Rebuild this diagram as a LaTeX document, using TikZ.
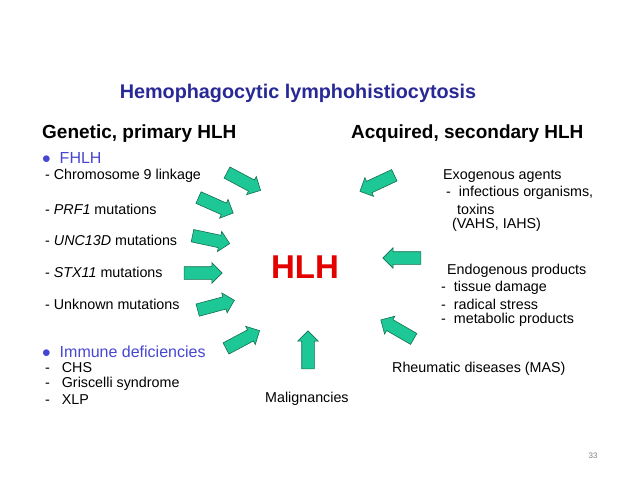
\documentclass[tikz,border=0pt]{standalone}
\usepackage{fontspec}
\setmainfont{Liberation Sans}
\usetikzlibrary{shapes.arrows}
\definecolor{arr}{RGB}{30,200,150}
\definecolor{arrd}{RGB}{20,110,80}
\definecolor{ttl}{RGB}{40,40,150}
\definecolor{bl}{RGB}{70,70,210}
\begin{document}
\begin{tikzpicture}[x=1pt,y=-1pt,
  blk/.style={single arrow,draw=arrd,fill=arr,line width=0.6pt,minimum height=38pt,single arrow head extend=4pt,single arrow tip angle=90,inner xsep=0pt,inner ysep=6pt,anchor=center},
  t/.style={anchor=west,inner sep=0pt,font=\fontsize{14.3}{15}\selectfont},
  h/.style={anchor=west,inner sep=0pt,font=\fontsize{19}{21}\selectfont\bfseries}]
\useasboundingbox (0,0) rectangle (638,479);
\node[inner sep=0pt,text=ttl,font=\fontsize{19.8}{22}\selectfont\bfseries] (title) at (298,93) {Hemophagocytic lymphohistiocytosis};
\node[h] (gen) at (42,134) {Genetic, primary HLH};
\node[h] (acq) at (351,134) {Acquired, secondary HLH};
\node[t,text=bl,font=\fontsize{16}{17}\selectfont] (fh) at (42,158) {$\bullet$\ \ FHLH};
\node[t] (l1) at (45,176) {- Chromosome 9 linkage};
\node[t] (l2) at (45,209) {- \textit{PRF1} mutations};
\node[t] (l3) at (45,240) {- \textit{UNC13D} mutations};
\node[t] (l4) at (45,272) {- \textit{STX11} mutations};
\node[t] (l5) at (45,304) {- Unknown mutations};
\node[t,text=bl,font=\fontsize{16}{17}\selectfont] (im) at (42,352) {$\bullet$\ \ Immune deficiencies};
\node[t] (c1) at (45,368) {-\ \ \ CHS};
\node[t] (c2) at (45,384) {-\ \ \ Griscelli syndrome};
\node[t] (c3) at (45,400) {-\ \ \ XLP};
\node[t] (r1) at (443,176) {Exogenous agents};
\node[t] (r2) at (446,193) {-\ \ infectious organisms,};
\node[t] (r3) at (457,209) {toxins};
\node[t] (r4) at (452,225) {(VAHS, IAHS)};
\node[t] (r5) at (447,271) {Endogenous products};
\node[t] (r6) at (441,288) {-\ \ tissue damage};
\node[t] (r7) at (441,304) {-\ \ radical stress};
\node[t] (r8) at (441,320) {-\ \ metabolic products};
\node[t] (rh) at (392,369) {Rheumatic diseases (MAS)};
\node[t] (mal) at (265,399) {Malignancies};
\node[inner sep=0pt,text=red!90!black,font=\fontsize{33}{35}\selectfont\bfseries] (hlh) at (305,267) {HLH};
\node[inner sep=0pt,text=gray,font=\fontsize{8}{9}\selectfont] (pg) at (593,456) {33};
\node[blk,rotate=-28] (a1) at (241,180) {};
\node[blk,rotate=-24] (a2) at (213,204) {};
\node[blk,rotate=-12] (a3) at (208,239) {};
\node[blk] (a4) at (200,273) {};
\node[blk,rotate=15] (a5) at (213,306) {};
\node[blk,rotate=28] (a6) at (240,341) {};
\node[blk,rotate=90] (a7) at (308,353) {};
\node[blk,rotate=-155] (a8) at (380,182) {};
\node[blk,rotate=180] (a9) at (405,258) {};
\node[blk,rotate=150] (a10) at (400,331) {};
\end{tikzpicture}
\end{document}
